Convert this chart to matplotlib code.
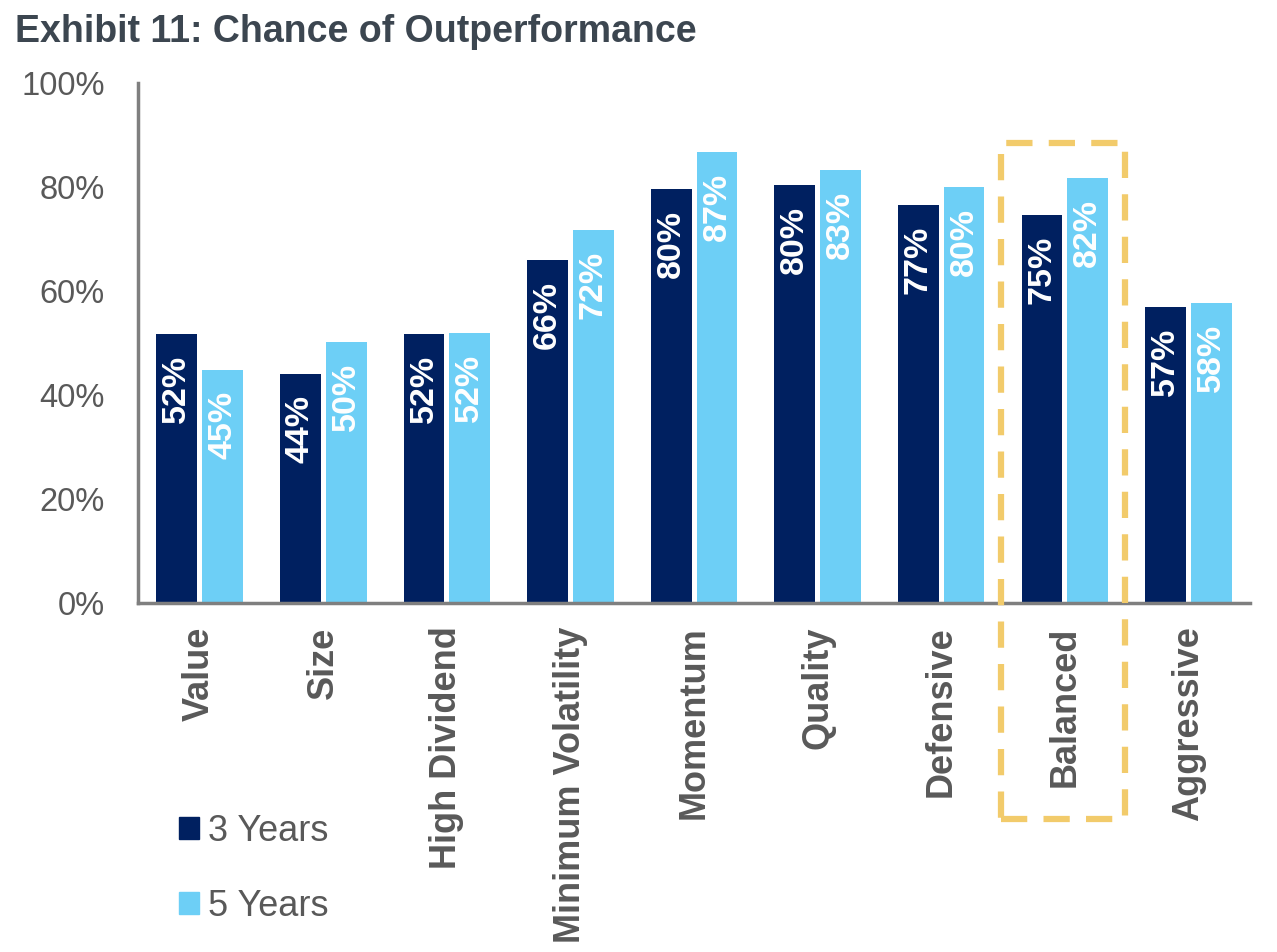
import matplotlib
matplotlib.use("Agg")
import matplotlib.pyplot as plt
from matplotlib.patches import Rectangle, Patch
import numpy as np

plt.rcParams['font.family'] = ['Liberation Sans', 'DejaVu Sans']

categories = ["Value", "Size", "High Dividend", "Minimum Volatility", "Momentum",
              "Quality", "Defensive", "Balanced", "Aggressive"]
years3 = [51.7, 44.0, 51.7, 66.0, 79.6, 80.4, 76.5, 74.6, 56.9]
years5 = [44.8, 50.2, 51.9, 71.7, 86.7, 83.3, 80.0, 81.7, 57.7]
labels3 = ["52%", "44%", "52%", "66%", "80%", "80%", "77%", "75%", "57%"]
labels5 = ["45%", "50%", "52%", "72%", "87%", "83%", "80%", "82%", "58%"]
yticks = [0, 20, 40, 60, 80, 100]
ytick_labels = ["0%", "20%", "40%", "60%", "80%", "100%"]
series_names = ["3 Years", "5 Years"]

dark = "#002060"
light = "#6DCFF6"
gold = "#F2CB6B"
gray = "#595959"
axis_gray = "#7F7F7F"

fig = plt.figure(figsize=(12.77, 9.52), dpi=100)
ax = fig.add_axes([0.108, 0.3666, 0.871, 0.5462])

x = np.arange(len(categories))
w = 0.33
off = 0.185
b3 = ax.bar(x - off, years3, w, color=dark, label=series_names[0])
b5 = ax.bar(x + off, years5, w, color=light, label=series_names[1])

for bars, labs in ((b3, labels3), (b5, labels5)):
    for rect, lab in zip(bars, labs):
        ax.annotate(lab, (rect.get_x() + rect.get_width() / 2, rect.get_height()),
                    xytext=(0, -15), textcoords="offset points",
                    rotation=90, ha="center", va="top", color="white",
                    fontsize=24.5, fontweight="bold")

ax.set_xlim(-0.5, len(categories) - 0.5)
ax.set_ylim(0, 100)
ax.set_yticks(yticks)
ax.set_yticklabels(ytick_labels, fontsize=23.5, color=gray)
ax.set_xticks(x)
ax.set_xticklabels(categories, rotation=90, fontsize=26, fontweight="bold",
                   color=gray, va="top", ha="center")
ax.tick_params(axis="both", length=0)
ax.tick_params(axis="x", pad=17)
ax.tick_params(axis="y", pad=24)

for s in ("top", "right"):
    ax.spines[s].set_visible(False)
for s in ("left", "bottom"):
    ax.spines[s].set_color(axis_gray)
    ax.spines[s].set_linewidth(2.5)

# highlight box around Balanced
rect = Rectangle((6.48, -41.5), 1.01, 130.0, fill=False, edgecolor=gold,
                 linewidth=4.5, linestyle=(0, (4.2, 2.6)), clip_on=False, zorder=5)
ax.add_patch(rect)

handles = [Patch(color=dark), Patch(color=light)]
fig.legend(handles, series_names, loc="upper left", bbox_to_anchor=(0.14, 0.145),
           frameon=False, fontsize=26, handlelength=0.55, handleheight=0.55,
           handletextpad=0.25, labelspacing=1.1, labelcolor=gray,
           borderaxespad=0, borderpad=0)

fig.text(0.012, 0.966, "Exhibit 11: Chance of Outperformance", fontsize=27,
         fontweight="bold", color="#3C4650", ha="left", va="center")

fig.savefig("out.png", dpi=100)
